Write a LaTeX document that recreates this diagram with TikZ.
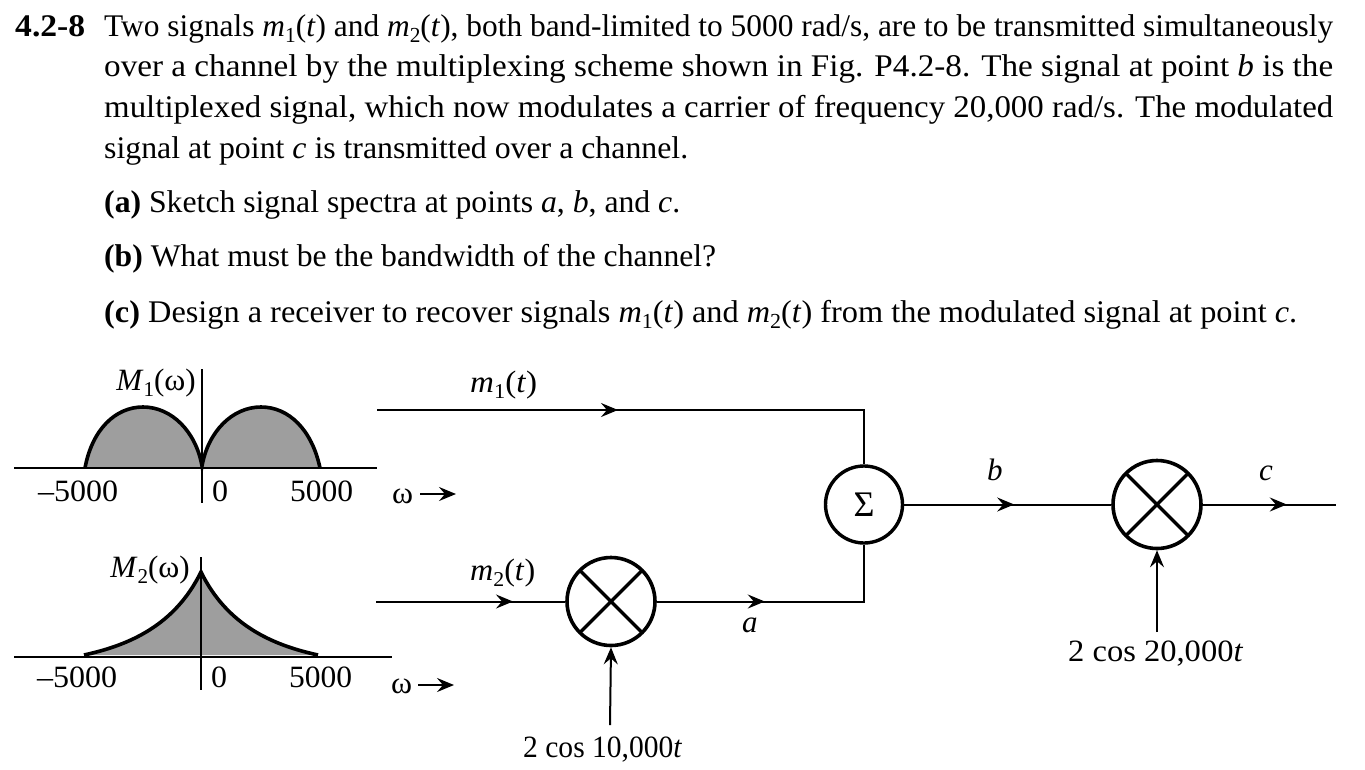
\documentclass[tikz,border=0pt]{standalone}
\usepackage{graphicx}
\usepackage{fontspec}
\setmainfont{Liberation Serif}
\usetikzlibrary{arrows.meta,decorations.markings}
\newcommand{\sg}[1]{\textit{m}\raisebox{-0.22em}{\scalebox{.68}{#1}}(\textit{t})}
\newcommand{\fitw}[2]{\resizebox{#1pt}{\height}{#2}}
\newcommand{\om}{\resizebox{21pt}{\height}{ω}}
\tikzset{
 txt/.style={anchor=base west,inner sep=0pt,font=\fontsize{31.5}{33}\selectfont},
 lab/.style={anchor=base west,inner sep=0pt,font=\fontsize{31}{33}\selectfont},
 wire/.style={line width=2pt,postaction={decorate},decoration={markings,mark=at position #1 with {\arrow{Stealth[length=17pt,width=14pt,inset=6pt]}}}},
 axisline/.style={line width=2pt},
 mult/.style={circle,draw,line width=3.6pt,minimum size=88pt,inner sep=0pt,
   path picture={\draw[line width=3.4pt] (path picture bounding box.north west)--(path picture bounding box.south east)
     (path picture bounding box.north east)--(path picture bounding box.south west);}},
 sumnode/.style={circle,draw,line width=3.4pt,minimum size=77pt,inner sep=0pt,font=\fontsize{36}{38}\selectfont},
 arr/.style={line width=2pt,-{Stealth[length=17pt,width=14pt,inset=6pt]}},
 curve/.style={line width=3.6pt,fill=black!38},
}
\begin{document}
\begin{tikzpicture}[x=1pt,y=-1pt]
\useasboundingbox (0,0) rectangle (1365,769);
\fill[white] (0,0) rectangle (1365,769);
% text
\node[txt] (n) at (15,36) {\fitw{70}{\textbf{4.2-8}}};
\node[txt] (l1) at (104,36) {\fitw{1229}{Two signals \sg{1} and \sg{2}, both band-limited to 5000 rad/s, are to be transmitted simultaneously}};
\node[txt] (l2) at (104,76) {\fitw{1229}{over a channel by the multiplexing scheme shown in Fig. P4.2-8. The signal at point \textit{b} is the}};
\node[txt] (l3) at (104,117) {\fitw{1229}{multiplexed signal, which now modulates a carrier of frequency 20,000 rad/s. The modulated}};
\node[txt] (l4) at (104,158) {\fitw{584}{signal at point \textit{c} is transmitted over a channel.}};
\node[txt] (a) at (104,212) {\fitw{576}{\textbf{(a)} Sketch signal spectra at points \textit{a}, \textit{b}, and \textit{c}.}};
\node[txt] (b) at (104,266) {\fitw{612}{\textbf{(b)} What must be the bandwidth of the channel?}};
\node[txt] (c) at (104,322) {\fitw{1193}{\textbf{(c)} Design a receiver to recover signals \sg{1} and \sg{2} from the modulated signal at point \textit{c}.}};
% spectrum 1
\draw[curve] (85,468) .. controls (92,430) and (115,407) .. (143,407) .. controls (172,407) and (196,432) .. (202,466) .. controls (208,432) and (232,407) .. (261,407) .. controls (289,407) and (312,430) .. (320,468);
\draw[axisline] (14,468) -- (377,468);
\draw[axisline] (202,369) -- (202,503);
\node[lab,anchor=base east] (m1w) at (196,390) {\textit{M}\raisebox{-0.22em}{\scalebox{.68}{1}}(\om)};
\node[lab] (t1) at (38,501) {\fitw{80}{–5000}};
\node[lab] (t2) at (212,501) {\fitw{16}{0}};
\node[lab] (t3) at (290,501) {\fitw{63}{5000}};
\node[lab] (w1) at (392,503) {\om};
\coordinate (w1a) at (420,494);
\coordinate (w1b) at (456,494);
\draw[arr] (w1a) -- (w1b);
% spectrum 2
\draw[curve] (84,655) .. controls (130,645) and (175,625) .. (201,572) .. controls (227,625) and (272,645) .. (318,655);
\draw[axisline] (14,657) -- (392,657);
\draw[axisline] (201,557) -- (201,690);
\node[lab,anchor=base east] (m2w) at (190,577) {\textit{M}\raisebox{-0.22em}{\scalebox{.68}{2}}(\om)};
\node[lab] (u1) at (37,687) {\fitw{80}{–5000}};
\node[lab] (u2) at (211,687) {\fitw{16}{0}};
\node[lab] (u3) at (289,687) {\fitw{63}{5000}};
\node[lab] (w2) at (391,693) {\om};
\coordinate (w2a) at (418,685);
\coordinate (w2b) at (454,685);
\draw[arr] (w2a) -- (w2b);
% block diagram
\node[sumnode] (sum) at (864,504.5) {Σ};
\node[mult] (x1) at (611,601.5) {};
\node[mult] (x2) at (1157,504.5) {};
\coordinate (in1) at (377,410);
\coordinate (in2) at (376,601.5);
\coordinate (c1) at (864,410);
\coordinate (c2) at (864,601.5);
\coordinate (out) at (1336,504.5);
\coordinate (lo1) at (610,725);
\coordinate (lo2) at (1157,632);
\draw[wire=241pt] (in1) -- (c1) -- (sum.north);
\draw[wire=137pt] (in2) -- (x1.west);
\draw[wire=108pt] (x1.east) -- (c2) -- (sum.south);
\draw[wire=110pt] (sum.east) -- (x2.west);
\draw[wire=84pt] (x2.east) -- (out);
\draw[arr] (lo1) -- (x1.south);
\draw[arr] (lo2) -- (x2.south);
\node[lab] (lm1) at (470,392) {\fitw{67}{\sg{1}}};
\node[lab] (lm2) at (470,580) {\fitw{65}{\sg{2}}};
\node[lab] (la) at (742,632) {\textit{a}};
\node[lab] (lb) at (987,480) {\textit{b}};
\node[lab] (lc) at (1259,480) {\textit{c}};
\node[lab] (lo1t) at (523,757) {\fitw{159}{2 cos 10,000\textit{t}}};
\node[lab] (lo2t) at (1068,661) {\fitw{175}{2 cos 20,000\textit{t}}};
\end{tikzpicture}
\end{document}
